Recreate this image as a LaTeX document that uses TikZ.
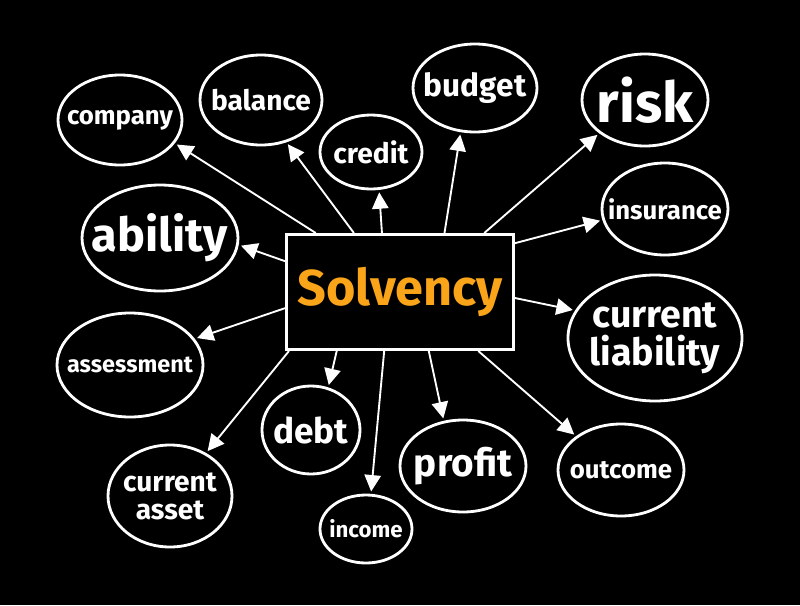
\documentclass[tikz,border=0pt]{standalone}
\usepackage{fontspec}
\setmainfont{Fira Sans}
\usetikzlibrary{shapes.geometric,arrows.meta}
\definecolor{solvorange}{RGB}{250,165,25}
\newcommand{\fsz}[1]{\bfseries\fontsize{#1}{#1}\selectfont}
\tikzset{
  bubble/.style={ellipse, draw=white, line width=2.4pt, inner sep=0pt},
  word/.style={text=white, align=center, inner sep=0pt},
  arr/.style={draw=white, line width=1.6pt, -{Triangle[width=14pt,length=14pt]}, shorten >=2pt}
}
\begin{document}
\begin{tikzpicture}[x=0.03cm, y=-0.03cm]
    % 背景
    \fill[black] (0,0) rectangle (800,605);
    \useasboundingbox (0,0) rectangle (800,605);

    % 中心方框
    \node [draw=white, line width=2.6pt, minimum width=227*0.03cm, minimum height=115*0.03cm,
           text=solvorange, font=\fsz{43}] (sv) at (400,292) {Solvency};

    % 上方气泡
    \node [bubble, minimum width=124*0.03cm, minimum height=90*0.03cm] (company) at (120,120) {};
    \node [word, font=\fsz{22}] (company-t) at (company) {company};
    \node [bubble, minimum width=122*0.03cm, minimum height=90*0.03cm] (balance) at (261,100) {};
    \node [word, font=\fsz{24}] (balance-t) at (balance) {balance};
    \node [bubble, minimum width=102*0.03cm, minimum height=74*0.03cm] (credit) at (371,152) {};
    \node [word, font=\fsz{24}] (credit-t) at (credit) {credit};
    \node [bubble, minimum width=124*0.03cm, minimum height=88*0.03cm] (budget) at (475,88) {};
    \node [word, font=\fsz{27}] (budget-t) at (budget) {budget};
    \node [bubble, minimum width=126*0.03cm, minimum height=92*0.03cm] (risk) at (645,100) {};
    \node [word, font=\fsz{48}] (risk-t) at (risk) {risk};

    % 两侧气泡
    \node [bubble, minimum width=126*0.03cm, minimum height=92*0.03cm] (insurance) at (665,209) {};
    \node [word, font=\fsz{22}] (insurance-t) at (insurance) {insurance};
    \node [bubble, minimum width=156*0.03cm, minimum height=106*0.03cm] (ability) at (160,238) {};
    \node [word, font=\fsz{40}] (ability-t) at (ability) {ability};
    \node [bubble, minimum width=174*0.03cm, minimum height=126*0.03cm] (liability) at (655,338) {};
    \node [word, font=\fsz{32}] (liability-t) at (liability) {current\\liability};
    \node [bubble, minimum width=146*0.03cm, minimum height=104*0.03cm] (assessment) at (130,365) {};
    \node [word, font=\fsz{20}] (assessment-t) at (assessment) {assessment};

    % 下方气泡
    \node [bubble, minimum width=124*0.03cm, minimum height=102*0.03cm] (asset) at (170,496) {};
    \node [word, font=\fsz{24}] (asset-t) at (asset) {current\\asset};
    \node [bubble, minimum width=98*0.03cm, minimum height=88*0.03cm] (debt) at (311,430) {};
    \node [word, font=\fsz{30}] (debt-t) at (debt) {debt};
    \node [bubble, minimum width=92*0.03cm, minimum height=68*0.03cm] (income) at (366,529) {};
    \node [word, font=\fsz{19}] (income-t) at (income) {income};
    \node [bubble, minimum width=126*0.03cm, minimum height=92*0.03cm] (profit) at (463,466) {};
    \node [word, font=\fsz{33}] (profit-t) at (profit) {profit};
    \node [bubble, minimum width=126*0.03cm, minimum height=92*0.03cm] (outcome) at (621,470) {};
    \node [word, font=\fsz{22}] (outcome-t) at (outcome) {outcome};

    % 箭头
    \draw [arr] (sv.145) -- (company.-23);
    \draw [arr] (sv.128) -- (balance.-59);
    \draw [arr] (sv.107) -- (credit.-78);
    \draw [arr] (sv.53) -- (budget.252);
    \draw [arr] (sv.35) -- (risk.216);
    \draw [arr] (sv.23) -- (insurance.190);
    \draw [arr] (sv.165) -- (ability.-5);
    \draw [arr] (sv.-3) -- (liability.161);
    \draw [arr] (sv.188) -- (assessment.22);
    \draw [arr] (sv.208) -- (asset.50);
    \draw [arr] (sv.223) -- (debt.68);
    \draw [arr] (sv.255) -- (income.82);
    \draw [arr] (sv.296) -- (profit.113);
    \draw [arr] (sv.323) -- (outcome.143);

\end{tikzpicture}
\end{document}
